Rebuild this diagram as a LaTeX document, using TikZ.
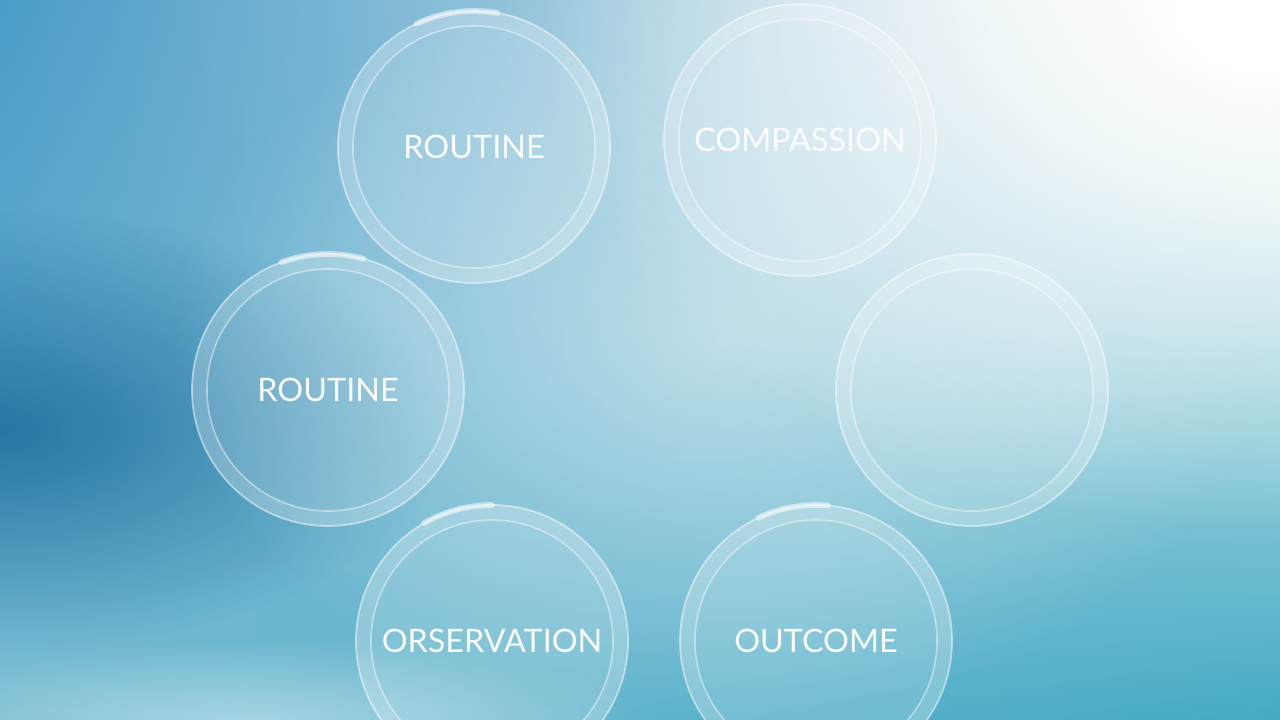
\documentclass[tikz,border=0pt]{standalone}
\usepackage{fontspec}
\setmainfont{Lato}
\usetikzlibrary{fadings,shadings}
\definecolor{BgTopLeft}{HTML}{4A9BC8}
\definecolor{BgTopRight}{HTML}{FFFFF8}
\definecolor{BgBotLeft}{HTML}{76BCD2}
\definecolor{BgBotRight}{HTML}{45AAC5}
\definecolor{DeepBlue}{HTML}{1C6C9C}
\tikzfading[name=softglow, inner color=transparent!0, outer color=transparent!100]

\begin{document}
\begin{tikzpicture}[
      every node/.style={align=center, font=\fontsize{9.2}{11}\selectfont, text=white},
      bubble/.style={circle, draw=white, draw opacity=0.5, line width=0.5pt, fill=white, fill opacity=0.16, text opacity=0.95, minimum size=2.72cm, inner sep=0pt},
      band/.style={white, opacity=0.12, line width=0.15cm},
      ring/.style={white, opacity=0.45, line width=0.45pt},
      shine/.style={white, opacity=0.55, line width=1.6pt, line cap=round}
    ]
      \useasboundingbox (0,0) rectangle (12.8,7.2);
      \clip (0,0) rectangle (12.8,7.2);
      % Background
      \shade[upper left=BgTopLeft, upper right=BgTopRight, lower left=BgBotLeft, lower right=BgBotRight] (0,0) rectangle (12.8,7.2);
      \fill[DeepBlue, opacity=0.85, path fading=softglow] (0,2.9) ellipse (4.5 and 2.2);
      \fill[white, opacity=0.45, path fading=softglow] (7.2,3.8) ellipse (5.5 and 3.8);
      \fill[white, opacity=0.4, path fading=softglow] (2.5,0) ellipse (4 and 0.8);
      \fill[white, path fading=softglow] (12.4,6.9) ellipse (7 and 5);
      % Bubbles
      \node[bubble] (routineA) at (4.74,5.73) {ROUTINE};
      \node[bubble] (compassion) at (8.00,5.80) {COMPASSION};
      \node[bubble] (routineB) at (3.28,3.30) {ROUTINE};
      \node[bubble] (blank) at (9.72,3.30) {};
      \node[bubble] (observation) at (4.92,0.79) {ORSERVATION};
      \node[bubble] (outcome) at (8.16,0.79) {OUTCOME};
      % Glass rings
      \foreach \b in {routineA, compassion, routineB, blank, observation, outcome} {
        \draw[band] (\b.center) circle (1.285);
        \draw[ring] (\b.center) circle (1.21);
      }
      % Highlights
      \draw[shine] ([shift={(115:1.36)}]routineA.center) arc (115:80:1.36);
      \draw[shine] ([shift={(110:1.36)}]routineB.center) arc (110:75:1.36);
      \draw[shine] ([shift={(120:1.36)}]observation.center) arc (120:90:1.36);
      \draw[shine] ([shift={(115:1.36)}]outcome.center) arc (115:85:1.36);
    \end{tikzpicture}
\end{document}
